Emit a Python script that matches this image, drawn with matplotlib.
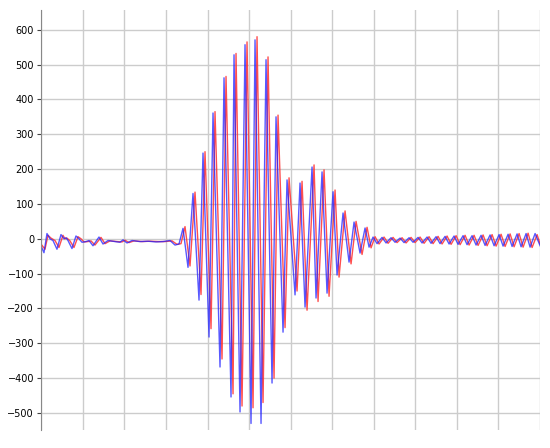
import matplotlib
matplotlib.use("Agg")
import matplotlib.pyplot as plt

blue_x = [41, 44, 47, 50, 53, 57, 61, 64, 66, 68, 72, 76, 79, 82, 86, 89, 93, 99, 103, 108, 115, 120, 123, 127, 132,
          140, 148, 156, 163, 170, 175, 179, 183, 188,
          193, 199, 203, 209, 213, 220, 224, 231, 234, 240, 245, 251, 255, 261, 266, 272, 276, 283, 287, 295,
          300, 305, 312, 316, 322, 327, 333, 337, 343, 349, 354, 360, 365, 369,
          373, 377, 382, 386, 391, 395, 400, 404, 409, 413, 418, 422, 427, 431, 436, 440, 445, 449, 454, 458,
          463, 467, 472, 476, 481, 485, 490, 494, 499, 503, 508, 512, 517, 521, 526, 530, 535, 540]
blue_y = [-20, -40, 15, 0, -5, -30, 12, 0, 3, -5, -28, 8, 0, -10, -8, -5, -20, 5, -15, -5, -8, -10, -3, -12, -5,
          -8, -7, -9, -8, -5, -18, -15, 30, -82,
          130, -176, 246, -282, 361, -368, 462, -454, 528, -497, 557, -530, 571, -530, 514, -414, 350, -268, 169, -161,
          160, -196, 206, -170, 192, -156, 135, -104, 74, -67, 48, -41, 31, -24,
          5, -14, 4, -12, 3, -10, 2, -11, 3, -10, 4, -12, 5, -13, 6, -14, 7, -15, 8, -16,
          9, -17, 9, -18, 10, -19, 11, -20, 12, -21, 13, -22, 14, -23, 15, -24, 15, -20]

red_x = [41, 45, 48, 51, 55, 59, 63, 65, 67, 70, 74, 78, 81, 84, 88, 91, 95, 101, 105, 110, 117, 122, 125, 129, 134,
         142, 150, 158, 165, 172, 177, 181, 185, 190,
         195, 201, 205, 211, 215, 222, 226, 233, 236, 242, 247, 253, 257, 263, 268, 274, 278, 285, 289, 297,
         302, 307, 314, 318, 324, 329, 335, 339, 345, 351, 356, 362, 367, 371,
         375, 379, 384, 388, 393, 397, 402, 406, 411, 415, 420, 424, 429, 433, 438, 442, 447, 451, 456, 460,
         465, 469, 474, 478, 483, 487, 492, 496, 501, 505, 510, 514, 519, 523, 528, 532, 537, 540]
red_y = [-15, -30, 10, 2, -5, -25, 10, 0, 2, -6, -25, 6, 0, -9, -8, -6, -18, 4, -14, -6, -8, -9, -4, -11, -6,
         -8, -7, -8, -8, -6, -16, -14, 35, -78,
         134, -160, 250, -258, 365, -345, 466, -445, 532, -480, 565, -485, 580, -470, 522, -400, 355, -255, 175, -150,
         165, -205, 212, -180, 198, -165, 140, -110, 80, -72, 50, -45, 33, -26,
         6, -15, 5, -13, 4, -11, 3, -12, 4, -11, 5, -13, 6, -14, 7, -15, 8, -16, 9, -17,
         10, -18, 10, -19, 11, -20, 12, -21, 13, -22, 14, -23, 15, -24, 16, -25, 12, -15]

y_ticks = [600, 500, 400, 300, 200, 100, 0, -100, -200, -300, -400, -500]
x_grid = [41, 83, 124, 166, 208, 249, 291, 332, 374, 415, 457, 498, 540]

fig = plt.figure(figsize=(5.5, 4.48), dpi=100)
ax = fig.add_axes([0.0745, 0.04, 0.9075, 0.938])
ax.plot(red_x, red_y, color="#ff3030", lw=1.0, alpha=0.85)
ax.plot(blue_x, blue_y, color="#2020ff", lw=1.0, alpha=0.75)
ax.set_xlim(41, 540)
ax.set_ylim(-549, 657)
ax.set_xticks(x_grid)
ax.set_xticklabels([])
ax.tick_params(axis="x", length=0)
ax.set_yticks(y_ticks)
ax.set_yticklabels([str(v).replace("-", "\u2212") for v in y_ticks], fontsize=7)
ax.tick_params(axis="y", length=3, width=0.8, color="#444444", pad=2)
ax.grid(True, color="#cccccc", lw=1.0)
ax.set_axisbelow(True)
for s in ["top", "right", "bottom"]:
    ax.spines[s].set_visible(False)
ax.spines["left"].set_color("#888888")
fig.savefig("out.png", dpi=100)
